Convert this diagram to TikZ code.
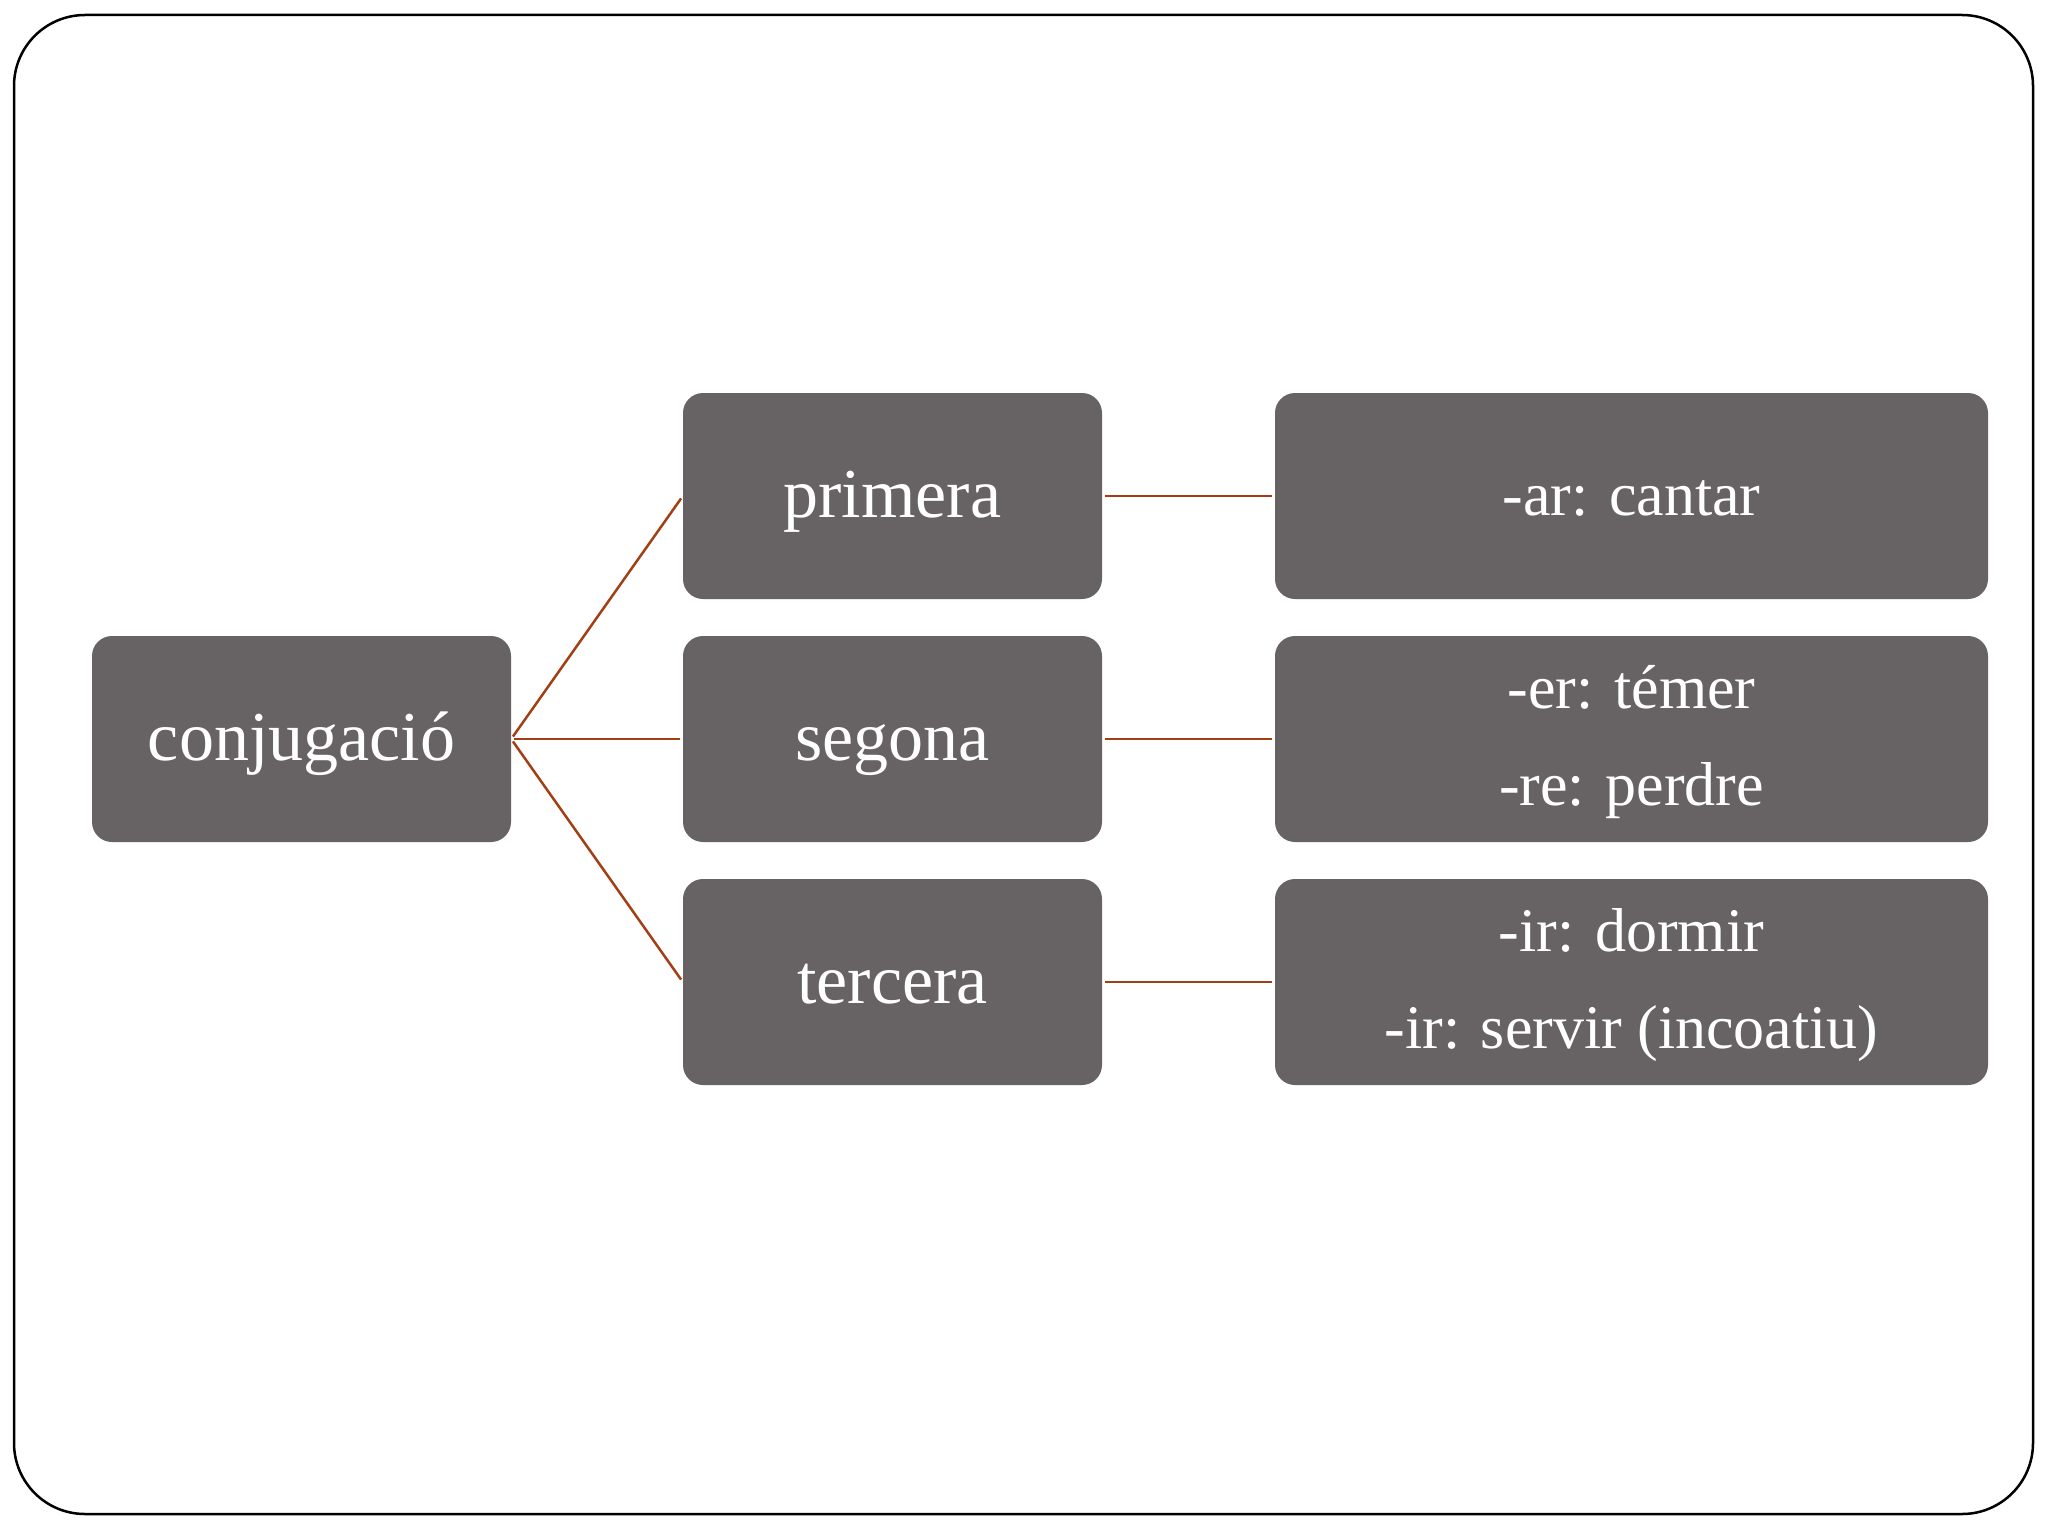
\documentclass[tikz,border=0pt]{standalone}
\usepackage{fontspec}
\setmainfont{Liberation Serif}
\definecolor{boxgray}{RGB}{103,99,100}
\definecolor{linkc}{RGB}{160,64,20}
\newcommand{\dn}[1]{\raisebox{-3pt}[\height][\depth]{#1}}
\begin{document}
\begin{tikzpicture}[x=1pt,y=-1pt,
  box/.style={rectangle, rounded corners=20pt, fill=boxgray, text=white, inner sep=0pt, minimum height=206pt, align=center},
  midbox/.style={box, minimum width=419pt, font=\fontsize{70}{84}\selectfont, text height=58pt, text depth=15pt},
  wide/.style={box, minimum width=713pt, font=\fontsize{62}{97}\selectfont},
  wideone/.style={wide, text height=49pt, text depth=11pt},
  link/.style={draw=linkc, line width=2.5pt, shorten <=3pt, shorten >=3pt}]
\useasboundingbox (0,0) rectangle (2048,1536);
\fill[white] (0,0) rectangle (2048,1536);
\draw[line width=2.5pt, rounded corners=71pt] (14,15) rectangle (2033,1514);
\node[midbox] (conj) at (301.5,739) {conjugació};
\node[midbox] (prim) at (892.5,496) {primera};
\node[midbox] (seg) at (892.5,739) {segona};
\node[midbox] (terc) at (892.5,982) {tercera};
\node[wideone] (r1) at (1631.5,496) {-ar: cantar};
\node[wide] (r2) at (1631.5,739) {\dn{-er: témer}\\\dn{-re: perdre}};
\node[wide] (r3) at (1631.5,982) {\dn{-ir: dormir}\\\dn{-ir: servir (incoatiu)}};
\draw[link] (conj.east) -- (prim.west);
\draw[link] (conj.east) -- (seg.west);
\draw[link] (conj.east) -- (terc.west);
\draw[link] (prim.east) -- (r1.west);
\draw[link] (seg.east) -- (r2.west);
\draw[link] (terc.east) -- (r3.west);
\end{tikzpicture}
\end{document}
